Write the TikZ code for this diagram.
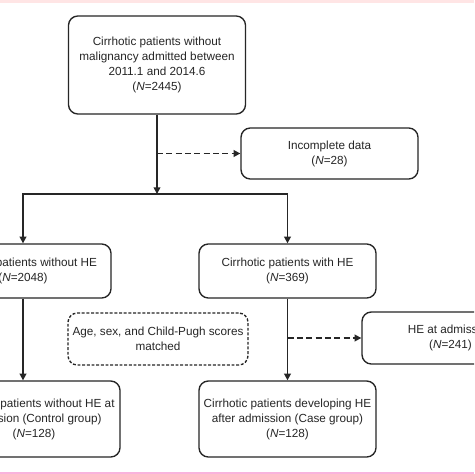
\documentclass[tikz,border=0pt]{standalone}
\usepackage{fontspec}
\setmainfont{Liberation Sans}
\usetikzlibrary{arrows.meta}
\begin{document}
\begin{tikzpicture}[x=0.75pt,y=-0.75pt,
  box/.style={draw=black!85,line width=1pt,rounded corners=7pt,align=center,
    font=\fontsize{8.8pt}{11.25pt}\selectfont,inner sep=0pt,text=black!85},
  dbox/.style={box,dashed,dash pattern=on 2.2pt off 1.3pt},
  arr/.style={draw=black!85,line width=1.2pt,-{Triangle[length=5pt,width=5pt]}},
  darr/.style={arr,dash pattern=on 4.5pt off 2.5pt}]
\useasboundingbox (0,0) rectangle (474,474);
\clip (0,0) rectangle (474,474);
\fill[white] (0,0) rectangle (474,474);
\fill[pink!40!white] (0,0) rectangle (474,3);
\fill[magenta!30!white] (0,472) rectangle (474,474);
\node[box,minimum width=132.75pt,minimum height=73.5pt] (top) at (157,65)
  {Cirrhotic patients without\\malignancy admitted between\\2011.1 and 2014.6\\(\textit{N}=2445)};
\node[box,minimum width=132.75pt,minimum height=38.25pt] (inc) at (329.5,153.5)
  {Incomplete data\\(\textit{N}=28)};
\node[box,minimum width=132pt,minimum height=40.5pt] (midL) at (23,271)
  {Cirrhotic patients without HE\\(\textit{N}=2048)};
\node[box,minimum width=132.75pt,minimum height=40.5pt] (midR) at (287.5,271)
  {Cirrhotic patients with HE\\(\textit{N}=369)};
\node[dbox,minimum width=135pt,minimum height=39pt] (match) at (158,339)
  {Age, sex, and Child-Pugh scores\\matched};
\node[box,minimum width=132.75pt,minimum height=39pt] (he) at (450.5,338)
  {HE at admission\\(\textit{N}=241)};
\node[box,minimum width=129pt,minimum height=57pt] (botL) at (34,419)
  {Cirrhotic patients without HE at\\admission (Control group)\\(\textit{N}=128)};
\node[box,minimum width=132.75pt,minimum height=57pt] (botR) at (287.5,419)
  {Cirrhotic patients developing HE\\after admission (Case group)\\(\textit{N}=128)};
\coordinate (split) at (157,194);
\draw[arr] (top.south) -- (split);
\draw[darr] (top.south |- inc.west) -- (inc.west);
\draw[arr] (split) -| (midL.north);
\draw[arr] (split) -| (midR.north);
\draw[arr] (midL.south) -- (midL.south |- botL.north);
\draw[arr] (midR.south) -- (midR.south |- botR.north);
\draw[darr] (midR.south |- he.west) -- (he.west);
\end{tikzpicture}
\end{document}
